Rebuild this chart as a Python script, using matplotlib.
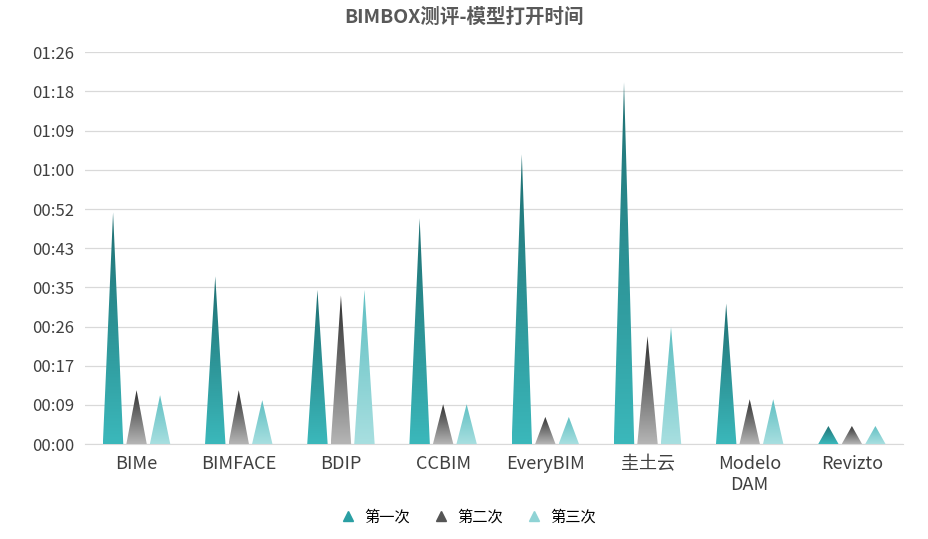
import matplotlib
matplotlib.use("Agg")
import matplotlib.pyplot as plt
import numpy as np
from matplotlib.patches import Polygon
from matplotlib.lines import Line2D

plt.rcParams['font.family'] = ['Noto Sans CJK SC', 'DejaVu Sans']

categories = ["BIMe", "BIMFACE", "BDIP", "CCBIM", "EveryBIM", "圭土云", "Modelo\nDAM", "Revizto"]
first = [51.1, 37.0, 34.0, 49.8, 63.9, 79.8, 31.0, 4.0]
second = [11.9, 11.9, 32.8, 8.8, 6.0, 23.8, 9.9, 4.0]
third = [10.8, 9.7, 34.0, 8.8, 6.0, 25.8, 9.9, 4.0]
series = [("第一次", first), ("第二次", second), ("第三次", third)]
ticks = [i * 8.64 for i in range(11)]
tick_labels = ["00:00", "00:09", "00:17", "00:26", "00:35", "00:43", "00:52", "01:00", "01:09", "01:18", "01:26"]

colors = [("#3bb8bb", "#1f6f72"), ("#b5b5b5", "#2f2f2f"), ("#a8dfe0", "#5fbfc2")]
legend_colors = ["#2a9fa3", "#555555", "#8fd3d5"]

fig = plt.figure(figsize=(9.29, 5.39), dpi=100)
ax = fig.add_axes([0.092, 0.176, 0.88, 0.727])
ax.set_xlim(-0.5, len(categories) - 0.5)
ax.set_ylim(0, 86.4)
offsets = [-0.23, 0, 0.23]
hw = 0.1
for si, (name, vals) in enumerate(series):
    c_bot, c_top = colors[si]
    cmap = matplotlib.colors.LinearSegmentedColormap.from_list("g", [c_bot, c_top])
    for i, v in enumerate(vals):
        x = i + offsets[si]
        poly = Polygon([(x - hw, 0), (x + hw, 0), (x, v)], closed=True, facecolor='none', edgecolor='none')
        ax.add_patch(poly)
        grad = np.linspace(0, 1, 256).reshape(-1, 1)
        im = ax.imshow(grad, cmap=cmap, extent=(x - hw, x + hw, 0, v), origin='lower', aspect='auto', zorder=3)
        im.set_clip_path(poly)
ax.set_aspect('auto')
ax.set_xlim(-0.5, len(categories) - 0.5)
ax.set_ylim(0, 86.4)
ax.set_yticks(ticks)
ax.set_yticklabels(tick_labels, fontsize=12, color="#404040")
ax.set_xticks(range(len(categories)))
ax.set_xticklabels(categories, fontsize=13, color="#404040")
ax.tick_params(length=0, pad=8)
ax.grid(axis='y', color='#d9d9d9', linewidth=0.9, zorder=0)
for s in ['top', 'right', 'left']:
    ax.spines[s].set_visible(False)
ax.spines['bottom'].set_color('#d9d9d9')
fig.suptitle("BIMBOX测评-模型打开时间", fontsize=14, fontweight='bold', color="#595959", y=0.985)
handles = [Line2D([], [], marker='^', linestyle='none', color=legend_colors[i], markersize=7, label=series[i][0]) for i in range(3)]
fig.legend(handles=handles, loc='lower center', ncol=3, frameon=False, fontsize=11, bbox_to_anchor=(0.5, 0.0), handletextpad=0.1, columnspacing=1.0)
fig.savefig("out.png", dpi=100)
